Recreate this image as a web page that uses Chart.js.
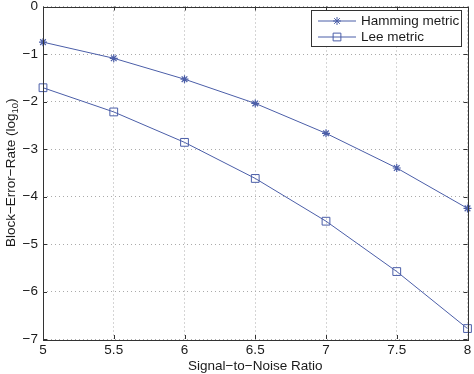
<!DOCTYPE html>
<html>
<head>
<meta charset="utf-8">
<script src="https://cdn.jsdelivr.net/npm/chart.js@4"></script>
<style>
  html, body { margin: 0; padding: 0; background: #fff; }
  #wrap { width: 474px; height: 374px; }
</style>
</head>
<body>
<div id="wrap"><canvas id="berchart" width="474" height="374"></canvas></div>
<script>
// values
const snr = [5, 5.5, 6, 6.5, 7, 7.5, 8];
const hamming = [-0.75, -1.09, -1.53, -2.04, -2.67, -3.40, -4.25];
const lee = [-1.71, -2.22, -2.86, -3.62, -4.52, -5.58, -6.78];
const xTicks = [5, 5.5, 6, 6.5, 7, 7.5, 8];
const yTicks = [0, -1, -2, -3, -4, -5, -6, -7];
const seriesNames = ['Hamming metric', 'Lee metric'];

const lineColor = '#4b5ea8';
const fontFamily = "'Liberation Sans', Arial, Helvetica, sans-serif";

function toPoints(xs, ys) {
    return xs.map(function(x, i) { return { x: x, y: ys[i] }; });
}

function minusSign(v) {
    return String(v).replace('-', '\u2212');
}

// box, inward ticks, legend and y title with subscript
const matlabLook = {
    id: 'matlabLook',
    afterDraw(chart) {
        const ctx = chart.ctx;
        const a = chart.chartArea;
        const xs = chart.scales.x, ys = chart.scales.y;
        ctx.save();
        ctx.strokeStyle = '#333';
        ctx.lineWidth = 1;
        ctx.strokeRect(Math.round(a.left) + 0.5, Math.round(a.top) + 0.5,
            Math.round(a.right - a.left), Math.round(a.bottom - a.top));

        ctx.beginPath();
        xTicks.forEach(function(t) {
            const px = Math.round(xs.getPixelForValue(t)) + 0.5;
            ctx.moveTo(px, a.bottom); ctx.lineTo(px, a.bottom - 4);
            ctx.moveTo(px, a.top); ctx.lineTo(px, a.top + 4);
        });
        yTicks.forEach(function(t) {
            const py = Math.round(ys.getPixelForValue(t)) + 0.5;
            ctx.moveTo(a.left, py); ctx.lineTo(a.left + 4, py);
            ctx.moveTo(a.right, py); ctx.lineTo(a.right - 4, py);
        });
        ctx.stroke();

        // legend
        const lx = 311.5, ly = 10.5, lw = 150, lh = 36;
        ctx.fillStyle = '#fff';
        ctx.fillRect(lx, ly, lw, lh);
        ctx.strokeStyle = '#333';
        ctx.strokeRect(lx, ly, lw, lh);
        chart.data.datasets.forEach(function(ds, i) {
            const rowY = 21 + i * 16;
            ctx.strokeStyle = lineColor;
            ctx.fillStyle = 'rgba(0,0,0,0)';
            ctx.lineWidth = 1;
            ctx.beginPath();
            ctx.moveTo(318, rowY); ctx.lineTo(356, rowY);
            ctx.stroke();
            Chart.helpers.drawPoint(ctx, {
                pointStyle: ds.pointStyle,
                radius: ds.pointRadius,
                borderWidth: 1
            }, 337, rowY);
            ctx.fillStyle = '#1a1a1a';
            ctx.font = '13.5px ' + fontFamily;
            ctx.textBaseline = 'middle';
            ctx.textAlign = 'left';
            ctx.fillText(ds.label, 361, rowY);
        });

        // y axis title
        ctx.translate(11, (a.top + a.bottom) / 2);
        ctx.rotate(-Math.PI / 2);
        ctx.fillStyle = '#1a1a1a';
        ctx.textBaseline = 'middle';
        const main = 'Block\u2212Error\u2212Rate (log';
        const sub = '10';
        const tail = ')';
        ctx.font = '13.5px ' + fontFamily;
        const w1 = ctx.measureText(main).width;
        const w3 = ctx.measureText(tail).width;
        ctx.font = '9.5px ' + fontFamily;
        const w2 = ctx.measureText(sub).width;
        let start = -(w1 + w2 + w3) / 2;
        ctx.textAlign = 'left';
        ctx.font = '13.5px ' + fontFamily;
        ctx.fillText(main, start, 0);
        ctx.font = '9.5px ' + fontFamily;
        ctx.fillText(sub, start + w1, 4);
        ctx.font = '13.5px ' + fontFamily;
        ctx.fillText(tail, start + w1 + w2, 0);
        ctx.restore();
    }
};

const ctx = document.getElementById('berchart').getContext('2d');

new Chart(ctx, {
    type: 'line',
    data: {
        datasets: [{
            label: seriesNames[0],
            data: toPoints(snr, hamming),
            borderColor: lineColor,
            backgroundColor: 'transparent',
            borderWidth: 1,
            pointStyle: 'star',
            pointRadius: 4,
            pointBorderColor: lineColor,
            pointBorderWidth: 1.2,
            tension: 0
        }, {
            label: seriesNames[1],
            data: toPoints(snr, lee),
            borderColor: lineColor,
            backgroundColor: 'transparent',
            borderWidth: 1,
            pointStyle: 'rect',
            pointRadius: 5.5,
            pointBorderColor: lineColor,
            pointBackgroundColor: 'transparent',
            pointBorderWidth: 1,
            tension: 0
        }]
    },
    options: {
        responsive: false,
        animation: false,
        clip: false,
        layout: { padding: { top: 4, right: 4, left: 0, bottom: 0 } },
        plugins: {
            legend: { display: false },
            tooltip: { enabled: false }
        },
        scales: {
            x: {
                type: 'linear',
                min: 5,
                max: 8,
                afterBuildTicks: function(scale) {
                    scale.ticks = xTicks.map(function(v) { return { value: v }; });
                },
                afterFit: function(scale) {
                    scale.height = 35;
                    scale.paddingLeft = 0;
                    scale.paddingRight = 0;
                },
                ticks: {
                    color: '#1a1a1a',
                    padding: 3,
                    maxRotation: 0,
                    font: { family: fontFamily, size: 13.5 },
                    callback: function(v) { return minusSign(v); }
                },
                grid: {
                    color: '#aaa',
                    lineWidth: 1,
                    drawTicks: false,
                    tickLength: 0
                },
                border: { display: false, dash: [1, 3] },
                title: {
                    display: true,
                    text: 'Signal\u2212to\u2212Noise Ratio',
                    color: '#1a1a1a',
                    padding: { top: 2, bottom: 0 },
                    font: { family: fontFamily, size: 13.5 }
                }
            },
            y: {
                type: 'linear',
                min: -7,
                max: 0,
                afterBuildTicks: function(scale) {
                    scale.ticks = yTicks.map(function(v) { return { value: v }; });
                },
                afterFit: function(scale) {
                    scale.width = 43;
                    scale.paddingTop = 0;
                    scale.paddingBottom = 0;
                },
                ticks: {
                    color: '#1a1a1a',
                    padding: 5,
                    font: { family: fontFamily, size: 13.5 },
                    callback: function(v) { return minusSign(v); }
                },
                grid: {
                    color: '#aaa',
                    lineWidth: 1,
                    drawTicks: false,
                    tickLength: 0
                },
                border: { display: false, dash: [1, 3] }
            }
        }
    },
    plugins: [matlabLook]
});
</script>
</body>
</html>
